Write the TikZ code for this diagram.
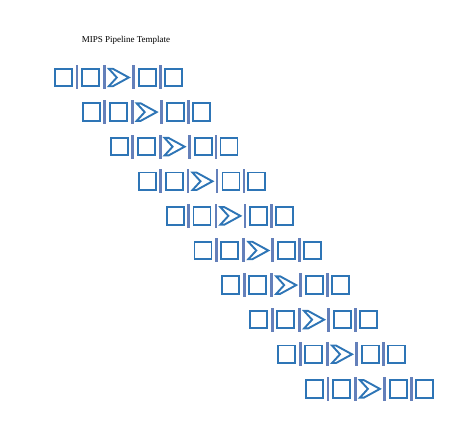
\documentclass[tikz,border=0pt]{standalone}
\usepackage{fontspec}
\setmainfont{Liberation Serif}
\usetikzlibrary{positioning,calc}

\definecolor{stageblue}{RGB}{46,117,182}
\definecolor{regblue}{RGB}{100,128,186}

\begin{document}
\begin{tikzpicture}[
  x=1pt,
  y=-1pt,
  node distance=8pt
]

  \tikzstyle{stagebox}=[draw=stageblue,rectangle,line width=1.9pt,minimum height=17.5pt,minimum width=17pt,inner sep=0pt]
  \tikzstyle{alunode}=[rectangle,minimum height=17.5pt,minimum width=20pt,inner sep=0pt,outer sep=0pt]
  \tikzstyle{alushape}=[draw=stageblue,line width=1.9pt]
  \tikzstyle{pipereg}=[fill=regblue,rectangle,minimum height=24pt,minimum width=2.8pt,inner sep=0pt]
  \tikzstyle{titlenode}=[font=\fontsize{9}{10}\selectfont]

  \useasboundingbox (0,0) rectangle (474,427);

  % title
  \node[titlenode] (title) at (126,40) {MIPS Pipeline Template};

  % stages
  \foreach \r in {0,...,9} {
    \node[stagebox,anchor=west] (if\r) at ({54+27.9*\r},{77.5+34.6*\r}) {};
    \node[stagebox] (id\r)  [right=of if\r] {};
    \node[alunode]  (alu\r) [right=9pt of id\r] {};
    \node[stagebox] (mem\r) [right=9pt of alu\r] {};
    \node[stagebox] (wb\r)  [right=7pt of mem\r] {};

    \draw[alushape] (alu\r.north west) -- ($(alu\r.north west)+(4,0)$) -- (alu\r.east)
      -- ($(alu\r.south west)+(4,0)$) -- (alu\r.south west) -- ($(alu\r.west)+(8,0)$) -- cycle;

    % pipeline registers
    \node[pipereg] (reg1\r) at ($(if\r.east)!.5!(id\r.west)$) {};
    \node[pipereg] (reg2\r) at ($(id\r.east)!.5!(alu\r.west)$) {};
    \node[pipereg] (reg3\r) at ($(alu\r.east)!.5!(mem\r.west)$) {};
    \node[pipereg] (reg4\r) at ($(mem\r.east)!.5!(wb\r.west)$) {};
  }

\end{tikzpicture}
\end{document}
